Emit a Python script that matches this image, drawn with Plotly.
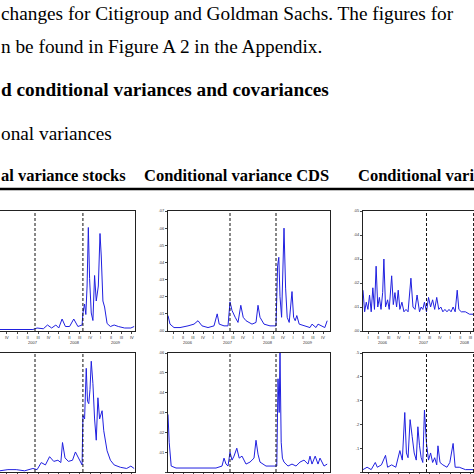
import plotly.graph_objects as go

# dates as decimal years
stk_t = [2006.70, 2007.0, 2007.3, 2007.5, 2007.6, 2007.75, 2007.85, 2007.95, 2008.05, 2008.12, 2008.2,
         2008.28, 2008.38, 2008.48, 2008.58, 2008.68, 2008.70, 2008.74, 2008.77, 2008.80, 2008.83, 2008.86,
         2008.90, 2008.94, 2008.98, 2009.02, 2009.07, 2009.11, 2009.14, 2009.18, 2009.22, 2009.28, 2009.36,
         2009.45, 2009.55, 2009.70, 2009.85, 2009.93]
stk_v = [.0001, .0001, .0001, .0001, .0002, .00015, .0004, .0002, .0004, .0002, .0008,
         .0003, .0003, .0008, .0003, .0004, .0012, .0018, .0011, .0030, .0069, .0035,
         .0012, .0007, .0037, .0020, .0030, .0065, .0050, .0020, .0016, .0005, .0003,
         .0004, .0003, .0002, .0002, .0003]

cds_t = [2006.0, 2006.05, 2006.15, 2006.3, 2006.5, 2006.65, 2006.75, 2006.85, 2007.0, 2007.15, 2007.23,
         2007.28, 2007.4, 2007.5, 2007.55, 2007.6, 2007.68, 2007.75, 2007.82, 2007.88, 2007.95, 2008.1,
         2008.2, 2008.25, 2008.3, 2008.4, 2008.55, 2008.7, 2008.74, 2008.77, 2008.8, 2008.84, 2008.9,
         2008.94, 2008.98, 2009.03, 2009.1, 2009.14, 2009.18, 2009.22, 2009.28, 2009.4, 2009.55, 2009.6,
         2009.7, 2009.75, 2009.85, 2009.92, 2009.98]
cds_v = [.009, .004, .002, .002, .003, .004, .006, .003, .002, .003, .010,
         .004, .003, .003, .017, .012, .008, .005, .015, .008, .006, .004,
         .005, .015, .008, .004, .003, .003, .038, .043, .020, .008, .060,
         .025, .008, .005, .023, .008, .006, .009, .004, .003, .002, .004,
         .002, .004, .003, .002, .006]

cov_t = [2006.0, 2006.04, 2006.08, 2006.12, 2006.16, 2006.2, 2006.24, 2006.28, 2006.32, 2006.36, 2006.4,
         2006.44, 2006.48, 2006.51, 2006.55, 2006.6, 2006.64, 2006.7, 2006.74, 2006.78, 2006.82, 2006.86,
         2006.9, 2006.95, 2007.0, 2007.05, 2007.1, 2007.17, 2007.22, 2007.27, 2007.32, 2007.38, 2007.42,
         2007.46, 2007.5, 2007.55, 2007.6, 2007.65, 2007.7, 2007.75, 2007.8, 2007.85, 2007.9, 2007.95,
         2008.0, 2008.05, 2008.1, 2008.15, 2008.2, 2008.25, 2008.3, 2008.34, 2008.4, 2008.5, 2008.6, 2008.7]
cov_v = [.017, .008, .012, .009, .015, .008, .018, .009, .027, .010, .014,
         .009, .016, .030, .010, .013, .009, .023, .011, .016, .010, .017,
         .009, .012, .008, .009, .008, .022, .010, .009, .015, .008, .010,
         .009, .012, .008, .014, .010, .013, .009, .014, .009, .010, .008,
         .009, .008, .009, .008, .010, .008, .017, .009, .008, .008, .007, .007]

stk2_t = [2006.70, 2006.9, 2007.1, 2007.3, 2007.5, 2007.6, 2007.7, 2007.8, 2007.9, 2008.0, 2008.1,
          2008.17, 2008.21, 2008.27, 2008.35, 2008.45, 2008.52, 2008.6, 2008.68, 2008.70, 2008.74, 2008.78,
          2008.81, 2008.84, 2008.87, 2008.90, 2008.94, 2008.98, 2009.02, 2009.06, 2009.1, 2009.16, 2009.2,
          2009.28, 2009.36, 2009.45, 2009.6, 2009.75, 2009.85, 2009.93]
stk2_v = [.0001, .0002, .0002, .0001, .0003, .0002, .0008, .0006, .0013, .0009, .0010,
          .0008, .0025, .0012, .0009, .0010, .0017, .0012, .0006, .0048, .0045, .0088,
          .0060, .0058, .0070, .0094, .0075, .0045, .0027, .0063, .0045, .0052, .0035,
          .0018, .0010, .0006, .0004, .0003, .0005, .0003]

cds2_t = [2006.0, 2006.03, 2006.08, 2006.2, 2006.4, 2006.6, 2006.8, 2007.0, 2007.2, 2007.35, 2007.4,
          2007.45, 2007.5, 2007.55, 2007.6, 2007.65, 2007.72, 2007.78, 2007.85, 2007.95, 2008.05, 2008.15,
          2008.2, 2008.25, 2008.3, 2008.45, 2008.6, 2008.72, 2008.75, 2008.78, 2008.8, 2008.83, 2008.86,
          2008.9, 2009.0, 2009.1, 2009.2, 2009.3, 2009.4, 2009.5, 2009.55, 2009.6, 2009.68, 2009.75, 2009.8,
          2009.9, 2009.98]
cds2_v = [.029, .015, .003, .002, .002, .002, .002, .002, .002, .003, .007,
          .004, .003, .010, .006, .008, .012, .007, .008, .004, .005, .007,
          .016, .009, .005, .003, .003, .003, .047, .030, .060, .015, .007,
          .005, .003, .004, .003, .005, .006, .004, .008, .004, .008, .004, .007,
          .003, .004]

cov2_t = [2006.0, 2006.1, 2006.2, 2006.3, 2006.35, 2006.45, 2006.55, 2006.6, 2006.7, 2006.8, 2006.9,
          2006.96, 2007.02, 2007.06, 2007.1, 2007.15, 2007.2, 2007.25, 2007.3, 2007.34, 2007.38, 2007.42,
          2007.46, 2007.5, 2007.55, 2007.6, 2007.65, 2007.7, 2007.75, 2007.8, 2007.83, 2007.88, 2007.95,
          2008.05, 2008.12, 2008.2, 2008.25, 2008.35, 2008.5, 2008.7]
cov2_v = [.01, .02, .01, .04, .02, .03, .07, .02, .03, .02, .09,
          .05, .25, .08, .06, .22, .15, .08, .05, .19, .11, .06,
          .04, .26, .12, .05, .08, .04, .06, .03, .11, .04, .03,
          .02, .04, .12, .02, .02, .01, .01]

years = [2006, 2007, 2008, 2009]
quarters = ["I", "II", "III", "IV"]
breaks = [2007.55, 2008.70]

W = 474.0
def px(x):
    return x / W

cols = [(0.0, px(135)), (px(168), px(330)), (px(363), 1.0)]
rows = [(1 - 331 / W, 1 - 211 / W), (1 - 472 / W, 1 - 353 / W)]
xranges = [[2006.71, 2009.95], [2006.0, 2010.05], [2006.0, 2008.71]]
yranges = [[0, .008], [0, .07], [0, .05], [0, .0101], [0, .06], [0, .5]]
yticks = [[0, .002, .004, .006, .008], [i / 100 for i in range(8)], [i / 100 for i in range(6)],
          [0, .002, .004, .006, .008, .010], [i / 100 for i in range(7)], [i / 10 for i in range(6)]]
ylabels = [[("%.3f" % v)[1:] for v in yticks[0]], [("%.2f" % v)[1:] for v in yticks[1]],
           [("%.2f" % v)[1:] for v in yticks[2]], [("%.3f" % v)[1:] for v in yticks[3]],
           [("%.2f" % v)[1:] for v in yticks[4]], [("%.1f" % v)[1:] for v in yticks[5]]]
series = [(stk_t, stk_v), (cds_t, cds_v), (cov_t, cov_v),
          (stk2_t, stk2_v), (cds2_t, cds2_v), (cov2_t, cov2_v)]

qvals = [y + (q + 0.5) / 4 for y in years for q in range(4)]
qtext = [q for y in years for q in quarters]

fig = go.Figure()
ann = []
shapes = []
small = dict(size=4, family="Liberation Sans", color="#333")
for i, (t, v) in enumerate(series):
    r, c = divmod(i, 3)
    n = "" if i == 0 else str(i + 1)
    fig.add_trace(go.Scatter(x=t, y=v, mode="lines", xaxis="x" + n, yaxis="y" + n,
                             line=dict(color="#2020e0", width=1), showlegend=False))
    ax = dict(domain=cols[c], range=xranges[c], anchor="y" + n, showgrid=False, zeroline=False,
              showline=True, mirror=True, linecolor="#222", linewidth=1, automargin=False,
              tickvals=qvals, ticktext=qtext, ticks="outside", ticklen=2, tickfont=small,
              showticklabels=(r == 0))
    ay = dict(domain=rows[r], range=yranges[i], anchor="x" + n, showgrid=False, zeroline=False,
              showline=True, mirror=True, linecolor="#222", linewidth=1, automargin=False,
              tickvals=yticks[i], ticktext=ylabels[i], ticks="outside", ticklen=2, tickfont=small,
              showticklabels=(c != 0))
    fig.layout["xaxis" + n] = ax
    fig.layout["yaxis" + n] = ay
    for b in breaks:
        shapes.append(dict(type="line", xref="x" + n, yref="y" + n + " domain", x0=b, x1=b, y0=0, y1=1,
                           line=dict(color="#111", width=1, dash="3px,2px")))
    if r == 0:
        for y in years:
            if xranges[c][0] <= y + 0.5 <= xranges[c][1]:
                ann.append(dict(x=y + 0.5, xref="x" + n, y=rows[r][0] - 16 / W, yref="paper", text=str(y),
                                showarrow=False, font=small))

serif = "Liberation Serif, Times New Roman, serif"
texts = [
    ("changes for Citigroup and Goldman Sachs. The figures for", -1, 14, 19.3, False),
    ("n be found in Figure A 2 in the Appendix.", -1, 46, 19.3, False),
    ("d conditional variances and covariances", -1, 89, 19.3, True),
    ("onal variances", -1, 133, 19.3, False),
    ("al variance stocks", -1, 175, 16.5, True),
    ("Conditional variance CDS", 142, 175, 16.5, True),
    ("Conditional vari", 356, 175, 16.5, True),
]
for s, xl, yc, sz, bold in texts:
    ann.append(dict(x=px(xl), y=1 - yc / W, xref="paper", yref="paper", xanchor="left", yanchor="middle",
                    text="<b>%s</b>" % s if bold else s, showarrow=False,
                    font=dict(size=sz, family=serif, color="#000")))

shapes.append(dict(type="line", xref="paper", yref="paper", x0=0, x1=1, y0=1 - 189 / W, y1=1 - 189 / W,
                   line=dict(color="#000", width=2.5)))

fig.update_layout(width=474, height=474, margin=dict(l=0, r=0, t=0, b=0), template="none",
                  paper_bgcolor="white", plot_bgcolor="white", annotations=ann, shapes=shapes)
fig.write_html("out.html", config={"displayModeBar": False},
               post_script="document.body.style.margin='0';")
